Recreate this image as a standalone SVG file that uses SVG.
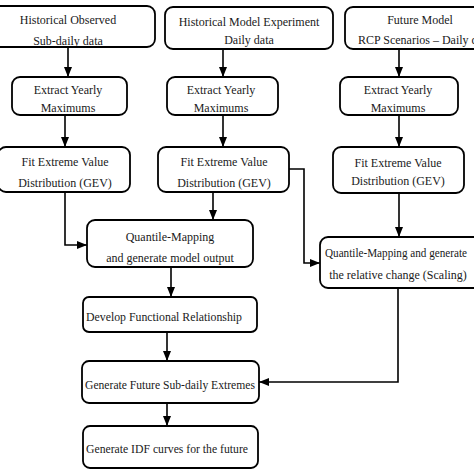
<svg xmlns="http://www.w3.org/2000/svg" width="474" height="474" viewBox="0 0 474 474">
<defs>
<style>
.box{fill:none;stroke:#000;stroke-width:1.8}
.t{font-family:"Liberation Serif","Times New Roman",serif;font-size:12px;fill:#1a1a1a;text-anchor:middle}
.s{text-anchor:start}
.c{fill:none;stroke:#000;stroke-width:1.6}
</style>
<marker id="ah" markerUnits="userSpaceOnUse" markerWidth="10" markerHeight="10" viewBox="0 0 10 10" refX="10" refY="5" orient="auto">
<path d="M0,1 L10,5 L0,9 Z" fill="#000"/>
</marker>
</defs>
<rect width="474" height="474" fill="#fff"/>
<g id="n1"><text class="t" x="68" y="24">Historical Observed</text><text class="t" x="68" y="45">Sub-daily data</text><rect class="box" x="-10" y="6" width="165" height="41" rx="8"/></g>
<g id="n2"><text class="t" x="249" y="26">Historical Model Experiment</text><text class="t" x="249" y="44">Daily data</text><rect class="box" x="165" y="7" width="168" height="42" rx="8"/></g>
<g id="n3"><text class="t" x="420" y="24">Future Model</text><text class="t s" x="358" y="44">RCP Scenarios – Daily data</text><rect class="box" x="345" y="7" width="140" height="42" rx="8"/></g>
<g id="n4"><rect class="box" x="12" y="77" width="115" height="38" rx="8"/><text class="t" x="68" y="94">Extract Yearly</text><text class="t" x="68" y="112">Maximums</text></g>
<g id="n5"><rect class="box" x="167" y="77" width="111" height="38" rx="8"/><text class="t" x="221" y="94">Extract Yearly</text><text class="t" x="221" y="112">Maximums</text></g>
<g id="n6"><rect class="box" x="340" y="77" width="118" height="38" rx="8"/><text class="t" x="398" y="94">Extract Yearly</text><text class="t" x="398" y="112">Maximums</text></g>
<g id="n7"><rect class="box" x="-2" y="147" width="132" height="45" rx="8"/><text class="t" x="65" y="166">Fit Extreme Value</text><text class="t" x="65" y="187">Distribution (GEV)</text></g>
<g id="n8"><rect class="box" x="158" y="147" width="131" height="45" rx="8"/><text class="t" x="224" y="166">Fit Extreme Value</text><text class="t" x="224" y="187">Distribution (GEV)</text></g>
<g id="n9"><rect class="box" x="333" y="147" width="131" height="46" rx="8"/><text class="t" x="398" y="167">Fit Extreme Value</text><text class="t" x="398" y="185">Distribution (GEV)</text></g>
<g id="n10"><rect class="box" x="87" y="220" width="166" height="47" rx="8"/><text class="t" x="170" y="241">Quantile-Mapping</text><text class="t" x="170" y="262">and generate model output</text></g>
<g id="n11"><rect class="box" x="320" y="237" width="170" height="51" rx="8"/><text class="t s" x="325" y="257" textLength="142" lengthAdjust="spacingAndGlyphs">Quantile-Mapping and generate</text><text class="t" x="398" y="279">the relative change (Scaling)</text></g>
<g id="n12"><rect class="box" x="83" y="297" width="174" height="35" rx="6"/><text class="t s" x="86" y="321" textLength="156" lengthAdjust="spacingAndGlyphs">Develop Functional Relationship</text></g>
<g id="n13"><rect class="box" x="82" y="361" width="177" height="42" rx="7"/><text class="t s" x="85" y="389" textLength="170" lengthAdjust="spacingAndGlyphs">Generate Future Sub-daily Extremes</text></g>
<g id="n14"><rect class="box" x="83" y="426" width="175" height="42" rx="7"/><text class="t s" x="86" y="453" textLength="162" lengthAdjust="spacingAndGlyphs">Generate IDF curves for the future</text></g>
<g id="connectors">
<path class="c" d="M68,47 V77" marker-end="url(#ah)"/>
<path class="c" d="M223,49 V77" marker-end="url(#ah)"/>
<path class="c" d="M399,49 V77" marker-end="url(#ah)"/>
<path class="c" d="M65,115 V147" marker-end="url(#ah)"/>
<path class="c" d="M223,115 V147" marker-end="url(#ah)"/>
<path class="c" d="M399,115 V147" marker-end="url(#ah)"/>
<path class="c" d="M65,192 V245 H87" marker-end="url(#ah)"/>
<path class="c" d="M213,192 V220" marker-end="url(#ah)"/>
<path class="c" d="M289,169 H304 V263 H320" marker-end="url(#ah)"/>
<path class="c" d="M399,193 V237" marker-end="url(#ah)"/>
<path class="c" d="M171,267 V297" marker-end="url(#ah)"/>
<path class="c" d="M167,332 V361" marker-end="url(#ah)"/>
<path class="c" d="M167,403 V426" marker-end="url(#ah)"/>
<path class="c" d="M398,288 V382 H259" marker-end="url(#ah)"/>
</g>
</svg>
